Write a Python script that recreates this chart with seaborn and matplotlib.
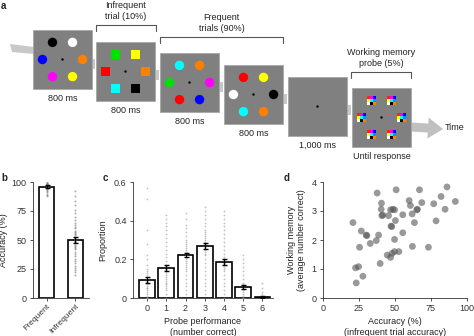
import numpy as np
import pandas as pd
import matplotlib
matplotlib.use("Agg")
import matplotlib.pyplot as plt
import matplotlib.patches as mpatches
import seaborn as sns

# ---------------- data ----------------
acc_conditions = ["Frequent", "Infrequent"]
acc_means = [96, 50]
acc_sem = [1.5, 2.5]
acc_frequent = [100, 99, 99, 98, 98, 98, 97, 97, 97, 97, 96, 96, 96, 95, 95, 94, 94, 93, 92, 91, 90, 89, 88]
acc_infrequent = [92, 88, 84, 80, 76, 73, 70, 67, 65, 63, 61, 60, 58, 57, 56, 55, 54, 53, 52, 51, 50, 50, 49,
                  48, 47, 46, 45, 44, 43, 42, 40, 38, 36, 34, 32, 30, 28, 26, 24, 22, 20]

probe_scores = ["0", "1", "2", "3", "4", "5", "6"]
probe_means = [0.092, 0.156, 0.222, 0.27, 0.187, 0.055, 0.006]
probe_sem = [0.016, 0.015, 0.012, 0.017, 0.015, 0.011, 0.004]
probe_pts_0 = [0.57, 0.51, 0.35, 0.28, 0.22, 0.2, 0.17, 0.15, 0.14, 0.13, 0.12, 0.11, 0.1, 0.09, 0.08, 0.07,
               0.06, 0.05, 0.05, 0.04, 0.03, 0.02, 0.01, 0, 0, 0, 0]
probe_pts_1 = [0.43, 0.41, 0.39, 0.37, 0.35, 0.33, 0.31, 0.29, 0.27, 0.25, 0.23, 0.21, 0.19, 0.17, 0.16, 0.15,
               0.14, 0.13, 0.12, 0.11, 0.1, 0.09, 0.08, 0.07, 0.06, 0.05, 0.04, 0.02, 0]
probe_pts_2 = [0.44, 0.41, 0.38, 0.36, 0.34, 0.32, 0.3, 0.29, 0.28, 0.27, 0.26, 0.25, 0.24, 0.23, 0.22, 0.21,
               0.2, 0.19, 0.18, 0.17, 0.16, 0.15, 0.14, 0.12, 0.1, 0.08, 0.06, 0.04, 0.02]
probe_pts_3 = [0.47, 0.45, 0.43, 0.41, 0.39, 0.37, 0.35, 0.34, 0.33, 0.32, 0.31, 0.3, 0.29, 0.28, 0.27, 0.26,
               0.25, 0.24, 0.23, 0.22, 0.2, 0.18, 0.16, 0.14, 0.12, 0.1, 0.08, 0.06, 0.04, 0.02]
probe_pts_4 = [0.45, 0.43, 0.41, 0.39, 0.37, 0.35, 0.33, 0.31, 0.29, 0.27, 0.25, 0.23, 0.21, 0.2, 0.19, 0.18,
               0.17, 0.16, 0.15, 0.14, 0.12, 0.1, 0.08, 0.06, 0.04, 0.02, 0]
probe_pts_5 = [0.22, 0.2, 0.18, 0.16, 0.14, 0.12, 0.1, 0.08, 0.07, 0.06, 0.05, 0.04, 0.03, 0.02, 0.01, 0, 0, 0]
probe_pts_6 = [0.08, 0.05, 0.03, 0.02, 0.01, 0, 0, 0, 0]

wm_accuracy = [20.8, 26.6, 25.4, 30.5, 30.0, 32.8, 37.0, 38.6, 37.6, 40.6, 40.4, 40.9, 41.5, 45.5, 46.9,
               50.8, 49.7, 48.5, 50.3, 47.8, 47.2, 49.7, 55.4, 55.4, 59.8, 60.7, 61.9, 63.5, 65.1, 67.0,
               68.6, 65.6, 62.1, 73.2, 76.9, 78.5, 82.0, 84.8, 86.1, 91.9, 22.6, 24.7, 27.7, 23.1, 39.7,
               44.6, 46.9, 48.0, 49.7, 52.7]
wm_memory = [2.60, 2.31, 1.75, 2.15, 2.17, 1.88, 1.98, 2.17, 3.62, 3.27, 3.06, 2.84, 2.86, 2.84, 3.04,
             3.73, 3.04, 3.06, 2.67, 2.46, 2.48, 2.02, 2.25, 2.87, 3.36, 3.19, 2.90, 2.60, 3.04, 3.73,
             3.29, 3.06, 1.78, 1.75, 3.25, 2.66, 3.50, 3.06, 3.83, 3.33, 1.04, 1.08, 0.75, 0.52, 1.19,
             1.48, 1.40, 1.54, 1.60, 1.60]

# schematic content
screen_shapes = ["circle", "square", "circle", "circle", None, "grid"]
screen_colors = [
    ["black", "white", "#0000ff", "#ff8000", "#ff00ff", "#ffff00"],
    ["#00e000", "#ffff00", "#ff0000", "#ff8000", "#00ffff", "black"],
    ["#00ffff", "#ff8000", "#00e000", "#ff00ff", "#ff0000", "#0000ff"],
    ["#ff0000", "#ffff00", "white", "black", "#00ffff", "#ff8000"],
    [],
    [],
]
grid_colors = [["#ff2020", "#ff00ff", "#0000ff"],
               ["#ffff00", "#00ffff", "#0090ff"],
               ["#ffffff", "#000000", "#ff8000"]]
durations = ["800 ms", "800 ms", "800 ms", "800 ms", "1,000 ms", "Until response"]
bracket_texts = ["Infrequent\ntrial (10%)", "Frequent\ntrials (90%)", "Working memory\nprobe (5%)"]

# ---------------- style ----------------
sns.set_theme(style="ticks")
plt.rcParams["font.family"] = ["Liberation Sans", "DejaVu Sans"]
plt.rcParams.update({
    "font.size": 6.5, "axes.labelsize": 6.5, "xtick.labelsize": 6.5, "ytick.labelsize": 6.5,
    "axes.linewidth": 0.6, "axes.edgecolor": "#333333",
    "xtick.major.size": 2.5, "ytick.major.size": 2.5,
    "xtick.major.width": 0.6, "ytick.major.width": 0.6,
    "xtick.major.pad": 2, "ytick.major.pad": 2,
    "text.color": "#222222", "axes.labelcolor": "#222222",
    "xtick.color": "#333333", "ytick.color": "#333333",
})
TXT = 6.5

fig = plt.figure(figsize=(4.74, 3.36), dpi=100)
W, H = 474, 336

# ---------------- panel a (schematic) ----------------
ax_a = fig.add_axes([0, 0.5, 1, 0.5])
ax_a.set_xlim(0, W)
ax_a.set_ylim(168, 0)
ax_a.axis("off")

screen_x = [33, 96, 160, 224, 288, 352]
screen_y = [30, 42, 53, 65, 77, 88]
S = 59
slot_dx = [0.33, 0.67, 0.16, 0.84, 0.33, 0.67]
slot_dy = [0.21, 0.21, 0.50, 0.50, 0.79, 0.79]
conn = "#c8c8c8"

# incoming arrow band
ax_a.add_patch(mpatches.Polygon([[10, 44], [34, 47], [34, 54], [12, 52]], closed=True,
                                facecolor=conn, edgecolor="none", zorder=1))
# connectors
for i in range(1, 6):
    gx = screen_x[i] - 4
    gy = screen_y[i] + 17
    ax_a.add_patch(mpatches.Rectangle((gx, gy), 3.5, 10, facecolor=conn, edgecolor="none", zorder=1))

for i in range(6):
    x0, y0 = screen_x[i], screen_y[i]
    ax_a.add_patch(mpatches.Rectangle((x0, y0), S, S, facecolor="#808080", edgecolor="#a8a8a8",
                                      lw=0.6, zorder=2))
    ax_a.add_patch(mpatches.Circle((x0 + S / 2, y0 + S / 2), 1.2, facecolor="black",
                                   edgecolor="none", zorder=3))
    shape = screen_shapes[i]
    for k in range(6):
        cx = x0 + slot_dx[k] * S
        cy = y0 + slot_dy[k] * S
        if shape == "circle":
            ax_a.add_patch(mpatches.Circle((cx, cy), 4.7, facecolor=screen_colors[i][k],
                                           edgecolor="none", zorder=3))
        elif shape == "square":
            ax_a.add_patch(mpatches.Rectangle((cx - 4.6, cy - 4.6), 9.2, 9.2,
                                              facecolor=screen_colors[i][k], edgecolor="none", zorder=3))
        elif shape == "grid":
            c = 3.2
            for r in range(3):
                for q in range(3):
                    ax_a.add_patch(mpatches.Rectangle((cx - 1.5 * c + q * c, cy - 1.5 * c + r * c), c, c,
                                                      facecolor=grid_colors[r][q], edgecolor="none",
                                                      zorder=3))
    ax_a.text(x0 + S / 2, y0 + S + 9.5, durations[i], ha="center", va="center", fontsize=TXT)

# brackets
br_x0 = [96, 160, 351]
br_x1 = [156, 283, 411]
br_y = [25, 37, 72]
for j in range(3):
    ax_a.plot([br_x0[j], br_x0[j], br_x1[j], br_x1[j]],
              [br_y[j] + 6, br_y[j], br_y[j], br_y[j] + 6], color="#555555", lw=0.8, zorder=2)
    ax_a.text((br_x0[j] + br_x1[j]) / 2, br_y[j] - 14, bracket_texts[j], ha="center", va="center",
              fontsize=TXT, linespacing=1.25)

# time arrow
ax_a.add_patch(mpatches.FancyArrow(411, 127, 32, 2, width=9, head_width=21, head_length=15,
                                   length_includes_head=True, facecolor="#c0c0c0", edgecolor="none",
                                   zorder=1))
ax_a.text(445, 127, "Time", ha="left", va="center", fontsize=TXT)
ax_a.text(1, 1, "a", ha="left", va="top", fontsize=7, fontweight="bold")

# ---------------- helper ----------------
def frac(left, top, right, bottom):
    return [left / W, (H - bottom) / H, (right - left) / W, (bottom - top) / H]

# ---------------- panel b ----------------
ax_b = fig.add_axes(frac(33, 182, 89, 298))
df_b = pd.DataFrame({
    "cond": ["Frequent"] * len(acc_frequent) + ["Infrequent"] * len(acc_infrequent),
    "acc": acc_frequent + acc_infrequent,
})
sns.barplot(x=acc_conditions, y=acc_means, ax=ax_b, color="white", edgecolor="black", linewidth=1.2,
            width=0.52, errorbar=None, order=acc_conditions)
sns.stripplot(data=df_b, x="cond", y="acc", ax=ax_b, order=acc_conditions, jitter=False, size=1.4,
              color="#888888", alpha=0.7, zorder=3)
ax_b.errorbar(range(len(acc_conditions)), acc_means, yerr=acc_sem, fmt="none", ecolor="black",
              elinewidth=1, capsize=1.8, capthick=1, zorder=4)
ax_b.set_xlim(-0.47, 1.47)
ax_b.set_ylim(0, 100)
ax_b.set_yticks([0, 25, 50, 75, 100])
ax_b.set_xlabel("")
ax_b.set_ylabel("Accuracy (%)", labelpad=3)
ax_b.set_xticks(range(2))
ax_b.set_xticklabels(acc_conditions, rotation=45, ha="right", rotation_mode="anchor", fontsize=6.1)
ax_b.tick_params(axis="x", pad=1)
sns.despine(ax=ax_b)
fig.text(1 / W, 1 - 178 / H, "b", ha="left", va="center", fontsize=7, fontweight="bold")

# ---------------- panel c ----------------
ax_c = fig.add_axes(frac(133, 182, 273, 298))
probe_lists = [probe_pts_0, probe_pts_1, probe_pts_2, probe_pts_3, probe_pts_4, probe_pts_5, probe_pts_6]
df_c = pd.DataFrame({
    "score": [s for s, lst in zip(probe_scores, probe_lists) for _ in lst],
    "prop": [v for lst in probe_lists for v in lst],
})
sns.barplot(x=probe_scores, y=probe_means, ax=ax_c, color="white", edgecolor="black", linewidth=1.2,
            width=0.82, errorbar=None, order=probe_scores)
sns.stripplot(data=df_c, x="score", y="prop", ax=ax_c, order=probe_scores, jitter=False, size=1.3,
              color="#999999", alpha=0.6, zorder=3)
ax_c.errorbar(range(len(probe_scores)), probe_means, yerr=probe_sem, fmt="none", ecolor="black",
              elinewidth=1, capsize=1.8, capthick=1, zorder=4)
ax_c.set_xlim(-0.73, 6.55)
ax_c.set_ylim(0, 0.6)
ax_c.set_yticks([0, 0.2, 0.4, 0.6])
ax_c.set_yticklabels(["0", "0.2", "0.4", "0.6"])
ax_c.set_xlabel("Probe performance\n(number correct)", labelpad=3, linespacing=1.25)
ax_c.set_ylabel("Proportion", labelpad=5)
sns.despine(ax=ax_c)
fig.text(103 / W, 1 - 178 / H, "c", ha="left", va="center", fontsize=7, fontweight="bold")

# ---------------- panel d ----------------
ax_d = fig.add_axes(frac(323, 182, 467, 298))
sns.scatterplot(x=wm_accuracy, y=wm_memory, ax=ax_d, color="#555555", alpha=0.6, s=24,
                edgecolor="none", linewidth=0)
ax_d.set_xlim(0, 100)
ax_d.set_ylim(0, 4)
ax_d.set_xticks([0, 25, 50, 75, 100])
ax_d.set_yticks([0, 1, 2, 3, 4])
ax_d.set_xlabel("Accuracy (%)\n(infrequent trial accuracy)", labelpad=3, linespacing=1.25)
ax_d.set_ylabel("Working memory\n(average number correct)", labelpad=4, linespacing=1.15)
sns.despine(ax=ax_d)
fig.text(284 / W, 1 - 178 / H, "d", ha="left", va="center", fontsize=7, fontweight="bold")

fig.savefig("out.png", dpi=100)
